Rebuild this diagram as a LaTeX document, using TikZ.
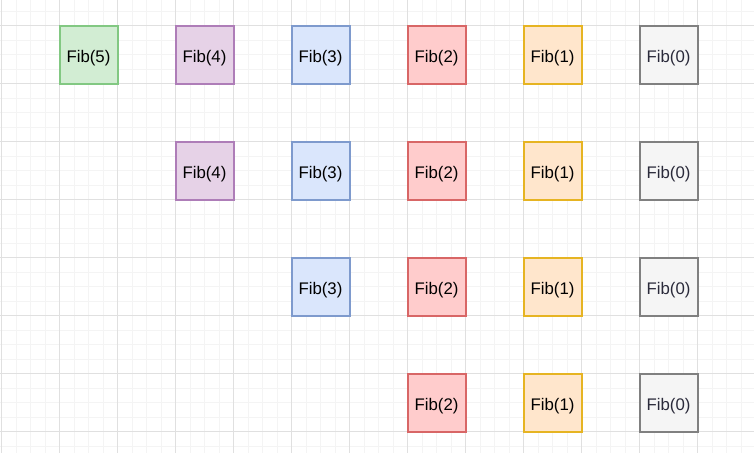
\documentclass[tikz,border=0pt]{standalone}
\usepackage{fontspec}
\setmainfont{Liberation Sans}
\definecolor{gridminor}{HTML}{F4F4F4}
\definecolor{gridmajor}{HTML}{E0E0E0}
\definecolor{gfill}{HTML}{D2EDD3}\definecolor{gline}{HTML}{82C882}
\definecolor{pfill}{HTML}{E6D2E7}\definecolor{pline}{HTML}{AE7DB8}
\definecolor{bfill}{HTML}{DAE6FC}\definecolor{bline}{HTML}{7E9ACD}
\definecolor{rfill}{HTML}{FFCCCC}\definecolor{rline}{HTML}{D86666}
\definecolor{ofill}{HTML}{FFE6CC}\definecolor{oline}{HTML}{E6B422}
\definecolor{kfill}{HTML}{F5F5F5}\definecolor{kline}{HTML}{808080}
\definecolor{ktext}{HTML}{2A2A3A}
\tikzset{
  fibbox/.style={draw, line width=2pt, minimum width=58pt, minimum height=58pt,
    inner sep=0pt, text height=15pt, text depth=0pt,
    font=\fontsize{16.8pt}{18pt}\selectfont, text=black},
  c5/.style={fibbox, fill=gfill, draw=gline},
  c4/.style={fibbox, fill=pfill, draw=pline},
  c3/.style={fibbox, fill=bfill, draw=bline},
  c2/.style={fibbox, fill=rfill, draw=rline},
  c1/.style={fibbox, fill=ofill, draw=oline},
  c0/.style={fibbox, fill=kfill, draw=kline, text=ktext},
}
\begin{document}
\begin{tikzpicture}[x=1pt,y=-1pt]
\useasboundingbox (0,0) rectangle (754,453);
\fill[white] (0,0) rectangle (754,453);
% minor grid
\foreach \i in {0,...,52} {
  \draw[gridminor, line width=0.8pt] ({1.5+14.5*\i},0) -- ({1.5+14.5*\i},453);
}
\foreach \j in {0,...,31} {
  \draw[gridminor, line width=0.8pt] (0,{-3.5+14.5*\j}) -- (754,{-3.5+14.5*\j});
}
% major grid
\foreach \i in {0,...,13} {
  \draw[gridmajor, line width=1pt] ({1.5+58*\i},0) -- ({1.5+58*\i},453);
}
\foreach \j in {0,...,8} {
  \draw[gridmajor, line width=1pt] (0,{25.5+58*\j}) -- (754,{25.5+58*\j});
}
% boxes: row r, column c at (88.5+116c, 54.5+116r)
\foreach \r in {0,...,3} {
  \foreach \c in {\r,...,5} {
    \pgfmathtruncatemacro{\n}{5-\c}
    \node[c\n] (f\r\c) at ({88.5+116*\c},{54.5+116*\r}) {Fib(\n)};
  }
}
\end{tikzpicture}
\end{document}
